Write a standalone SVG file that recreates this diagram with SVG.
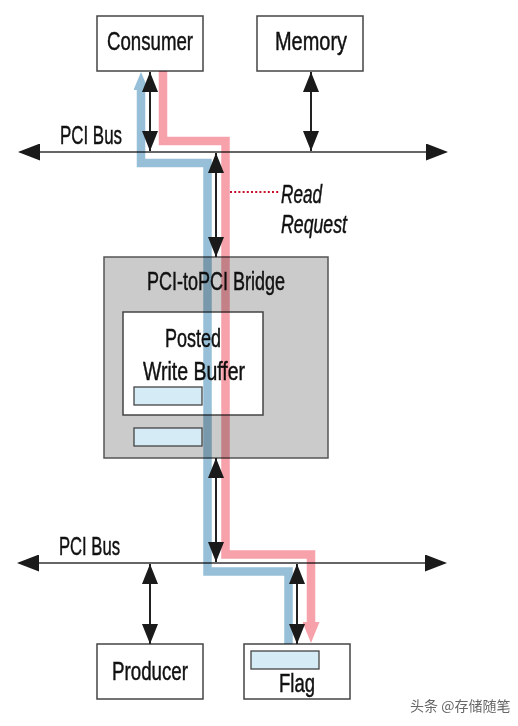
<svg xmlns="http://www.w3.org/2000/svg" width="518" height="726" viewBox="0 0 518 726">
<style>
.box{fill:#fff;stroke:#444;stroke-width:1.5}
.lbl{font-family:"Liberation Sans",Arial,sans-serif;font-size:25px;fill:#111;stroke:#111;stroke-width:0.45}
.it{font-style:italic}
.ln{stroke:#222;stroke-width:2;fill:none}
.bus{stroke:#333;stroke-width:1.6;fill:none}
.cell{fill:#d5ebf6;stroke:#444;stroke-width:1.3}
.flow{fill:none;stroke-width:8.5;stroke-linejoin:miter;mix-blend-mode:multiply}
</style>
<defs>
<marker id="ah" viewBox="0 0 20 16" refX="20" refY="8" markerWidth="20" markerHeight="16" markerUnits="userSpaceOnUse" orient="auto-start-reverse"><path d="M0,0 L20,8 L0,16 z" fill="#1a1a1a"/></marker>
<marker id="bh" viewBox="0 0 22 17" refX="20" refY="8.5" markerWidth="22" markerHeight="17" markerUnits="userSpaceOnUse" orient="auto-start-reverse"><path d="M0,0 L22,8.5 L0,17 z" fill="#1a1a1a"/></marker>
<marker id="pk" viewBox="0 0 21 17" refX="0" refY="8.5" markerWidth="21" markerHeight="17" markerUnits="userSpaceOnUse" orient="auto"><path d="M0,0 L21,8.5 L0,17 z" fill="#f7a1aa"/></marker>
<marker id="bl" viewBox="0 0 18 15" refX="0" refY="7.5" markerWidth="18" markerHeight="15" markerUnits="userSpaceOnUse" orient="auto"><path d="M0,0 L18,7.5 L0,15 z" fill="#97c0d8"/></marker>
</defs>

<g id="consumer"><rect class="box" x="97" y="16" width="106" height="55"/><text class="lbl" x="107" y="50" textLength="86" lengthAdjust="spacingAndGlyphs">Consumer</text></g>
<g id="memory"><rect class="box" x="257" y="16" width="106" height="55"/><text class="lbl" x="275" y="50" textLength="72" lengthAdjust="spacingAndGlyphs">Memory</text></g>

<g id="bridge">
<rect x="104" y="257" width="224" height="201" fill="#cbcbcb" stroke="#555" stroke-width="1.5"/>
<text class="lbl" x="147" y="290" textLength="138" lengthAdjust="spacingAndGlyphs">PCI-toPCI Bridge</text>
</g>
<g id="buffer">
<rect class="box" x="123" y="312" width="140" height="103"/>
<text class="lbl" x="165" y="347" textLength="56" lengthAdjust="spacingAndGlyphs">Posted</text>
<text class="lbl" x="143" y="380" textLength="102" lengthAdjust="spacingAndGlyphs">Write Buffer</text>
<rect class="cell" x="134" y="387" width="68" height="18"/>
</g>
<g id="bridge-cell"><rect class="cell" x="134" y="428" width="68" height="18"/></g>

<g id="producer"><rect class="box" x="97" y="644" width="106" height="55"/><text class="lbl" x="112" y="680" textLength="76" lengthAdjust="spacingAndGlyphs">Producer</text></g>
<g id="flag"><rect class="box" x="244" y="644" width="106" height="55"/><rect class="cell" x="251" y="651" width="68" height="18"/><text class="lbl" x="279" y="692" textLength="36" lengthAdjust="spacingAndGlyphs">Flag</text></g>

<g id="bus-top"><line class="bus" x1="20" y1="152" x2="446" y2="152" marker-start="url(#bh)" marker-end="url(#bh)"/><text class="lbl" x="60" y="144" textLength="62" lengthAdjust="spacingAndGlyphs">PCI Bus</text></g>
<g id="bus-bottom"><line class="bus" x1="19" y1="563" x2="445" y2="563" marker-start="url(#bh)" marker-end="url(#bh)"/><text class="lbl" x="59" y="555" textLength="61" lengthAdjust="spacingAndGlyphs">PCI Bus</text></g>

<g id="read-request">
<line x1="230" y1="192" x2="280" y2="192" stroke="#c8102e" stroke-width="2" stroke-dasharray="2,2.2"/>
<text class="lbl it" x="281" y="203" textLength="41" lengthAdjust="spacingAndGlyphs">Read</text>
<text class="lbl it" x="281" y="233" textLength="66" lengthAdjust="spacingAndGlyphs">Request</text>
</g>

<g id="connectors">
<path class="flow" stroke="#97c0d8" d="M288.5,644 V571.5 H207.5 V163 H141 V90" marker-end="url(#bl)"/>
<path class="flow" stroke="#f7a1aa" d="M163,71 V141 H225.5 V554.5 H311 V622" marker-end="url(#pk)"/>
<line class="ln" x1="150" y1="72" x2="150" y2="151" marker-start="url(#ah)" marker-end="url(#ah)"/>
<line class="ln" x1="311" y1="72" x2="311" y2="151" marker-start="url(#ah)" marker-end="url(#ah)"/>
<line class="ln" x1="216" y1="153" x2="216" y2="257" marker-start="url(#ah)" marker-end="url(#ah)"/>
<line class="ln" x1="216" y1="458" x2="216" y2="562" marker-start="url(#ah)" marker-end="url(#ah)"/>
<line class="ln" x1="150" y1="564" x2="150" y2="644" marker-start="url(#ah)" marker-end="url(#ah)"/>
<line class="ln" x1="297" y1="564" x2="297" y2="644" marker-start="url(#ah)" marker-end="url(#ah)"/>
</g>

<text x="410" y="711" font-family="'Noto Sans CJK SC',sans-serif" font-size="14" fill="#666">头条 @存储随笔</text>
</svg>
